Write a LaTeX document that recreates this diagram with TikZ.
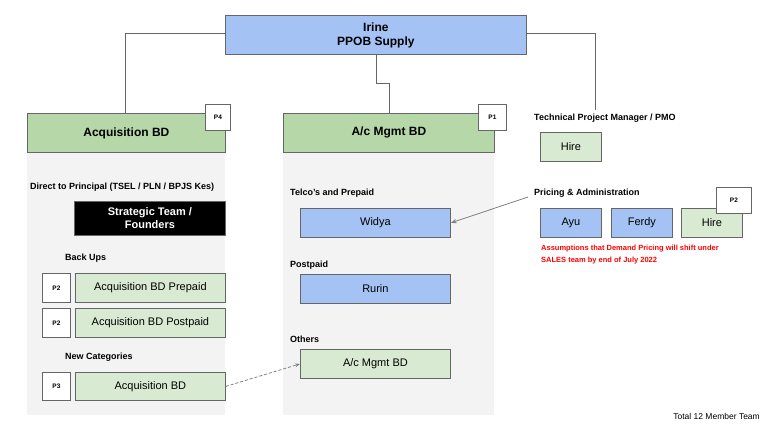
\documentclass[tikz,border=0pt]{standalone}
\usepackage{fontspec}
\setmainfont{Liberation Sans}
\usetikzlibrary{arrows.meta}
\definecolor{hdr}{HTML}{B6D7A8}
\definecolor{lg}{HTML}{D9EAD3}
\definecolor{bl}{HTML}{A4C2F4}
\definecolor{pan}{HTML}{F3F3F3}
\definecolor{bd}{HTML}{666666}
\begin{document}
\begin{tikzpicture}[x=1pt,y=-1pt,
  bx/.style={draw=bd,line width=0.8pt,inner sep=0pt,anchor=north west,font=\fontsize{11}{13}\selectfont},
  hd/.style={bx,fill=hdr,font=\bfseries\fontsize{12}{14}\selectfont},
  gb/.style={bx,fill=lg},
  bb/.style={bx,fill=bl},
  pb/.style={bx,fill=white,font=\bfseries\fontsize{6.5}{8}\selectfont},
  lab/.style={anchor=west,inner sep=0pt,font=\bfseries\fontsize{9}{11}\selectfont},
  ln/.style={draw=bd,line width=0.8pt}]
\useasboundingbox (0,0) rectangle (768,433);
\fill[white] (0,0) rectangle (768,433);
% panels
\fill[pan] (27,152) rectangle (225,415);
\fill[pan] (283,152) rectangle (494,415);
% top
\node[bb,minimum width=301pt,minimum height=39pt,font=\bfseries\fontsize{12}{14}\selectfont,align=center] (top) at (225,15) {Irine\\PPOB Supply};
\node[hd,minimum width=198pt,minimum height=39pt] (acq) at (27,113) {Acquisition BD};
\node[hd,minimum width=211pt,minimum height=39pt] (acm) at (283,113) {A/c Mgmt BD};
\node[pb,minimum width=25pt,minimum height=26pt] (p4) at (205,104) {P4};
\node[pb,minimum width=28pt,minimum height=26pt] (p1) at (478,104) {P1};
\coordinate (tpm) at (595,110);
\draw[ln] (top.west|-0,33) -| (acq.north-|125,0);
\draw[ln] (top.south-|376,0) |- (389,83) -- (acm.north-|389,0);
\draw[ln] (top.east|-0,33) -| (tpm);
% left column
\node[lab] (dtp) at (30,187) {Direct to Principal (TSEL / PLN / BPJS Kes)};
\node[bx,fill=black,text=white,font=\bfseries\fontsize{11}{13}\selectfont,align=center,minimum width=151pt,minimum height=34pt] (st) at (74,201) {Strategic Team /\\Founders};
\node[lab] (bu) at (65,258) {Back Ups};
\node[pb,minimum width=28pt,minimum height=29pt] (p2a) at (42,273) {P2};
\node[gb,minimum width=150pt,minimum height=29pt] (abp) at (75,273) {Acquisition BD Prepaid};
\node[pb,minimum width=28pt,minimum height=29pt] (p2b) at (42,308) {P2};
\node[gb,minimum width=150pt,minimum height=29pt] (abo) at (75,308) {Acquisition BD Postpaid};
\node[lab] (nc) at (65,357) {New Categories};
\node[pb,minimum width=28pt,minimum height=28pt] (p3) at (42,372) {P3};
\node[gb,minimum width=150pt,minimum height=28pt] (abn) at (75,372) {Acquisition BD};
% middle column
\node[lab] (tp) at (290,193) {Telco's and Prepaid};
\node[bb,minimum width=150pt,minimum height=29pt] (wid) at (300,208) {Widya};
\node[lab] (pp) at (290,265) {Postpaid};
\node[bb,minimum width=150pt,minimum height=29pt] (rur) at (300,274) {Rurin};
\node[lab] (ot) at (290,339) {Others};
\node[gb,minimum width=150pt,minimum height=29pt] (amb) at (300,349) {A/c Mgmt BD};
\draw[ln,gray,densely dashed,-{Stealth[length=5pt]}] (abn.east) -- (amb.west);
% right column
\node[lab] (tpml) at (534,118) {Technical Project Manager / PMO};
\node[gb,minimum width=61pt,minimum height=29pt] (h1) at (540,132) {Hire};
\node[lab] (pa) at (534,193) {Pricing \& Administration};
\node[bb,minimum width=61pt,minimum height=29pt] (ayu) at (540,208) {Ayu};
\node[bb,minimum width=61pt,minimum height=29pt] (fer) at (611,208) {Ferdy};
\node[gb,minimum width=61pt,minimum height=29pt] (h2) at (681,208) {Hire};
\node[pb,minimum width=35pt,minimum height=26pt] (p2c) at (716,187) {P2};
\node[anchor=north west,inner sep=0pt,align=left,text=red,font=\bfseries\fontsize{7.5}{12}\selectfont] (note) at (541,245) {Assumptions that Demand Pricing will shift under\\SALES team by end of July 2022};
\draw[ln,gray,-{Stealth[length=6pt]}] (pa.west) ++(-6,4) coordinate (pa0) (pa0) -- (wid.east);
\node[anchor=east,inner sep=0pt,font=\fontsize{8.5}{10}\selectfont] (tot) at (760,416) {Total 12 Member Team};
\end{tikzpicture}
\end{document}
